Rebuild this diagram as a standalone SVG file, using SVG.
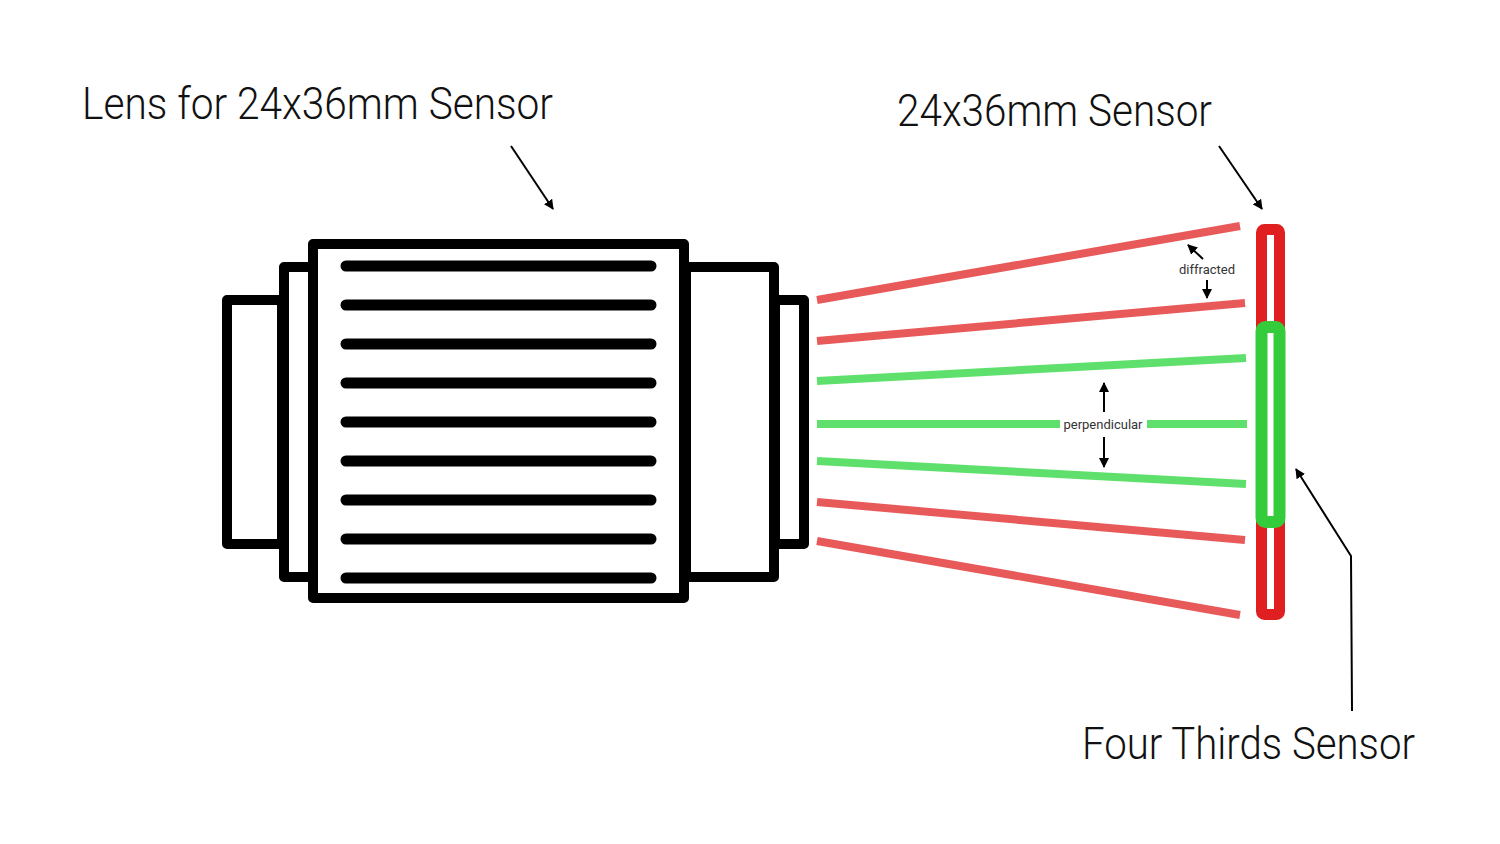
<svg xmlns="http://www.w3.org/2000/svg" width="1500" height="844" viewBox="0 0 1500 844">
<style>
.lens{fill:#fff;stroke:#000;stroke-width:10;stroke-linejoin:round}
.fin{stroke:#000;stroke-width:11;stroke-linecap:round}
.red{stroke:#e85a5a;stroke-width:8}
.grn{stroke:#5fe06c;stroke-width:8}
.big{font-family:Roboto,"Liberation Sans",sans-serif;font-weight:300;font-size:45px;fill:#111}
.sm{font-family:Roboto,"Liberation Sans",sans-serif;font-size:13px;fill:#333;text-anchor:middle}
.ptr{stroke:#000;stroke-width:2;fill:none}
</style>
<defs>
<marker id="ah" viewBox="0 0 10 10" refX="9" refY="5" markerWidth="5" markerHeight="5" orient="auto"><path d="M0,0L10,5L0,10z" fill="#000"/></marker>
</defs>
<rect width="1500" height="844" fill="#fff"/>
<g id="lens">
<rect class="lens" x="227" y="300" width="55" height="244"/>
<rect class="lens" x="284" y="267" width="30" height="310"/>
<rect class="lens" x="775" y="300" width="29" height="244"/>
<rect class="lens" x="686" y="267" width="88" height="310"/>
<rect class="lens" x="313" y="244" width="371" height="354"/>
<g class="fin">
<line x1="346" y1="266" x2="651" y2="266"/><line x1="346" y1="305" x2="651" y2="305"/><line x1="346" y1="344" x2="651" y2="344"/><line x1="346" y1="383" x2="651" y2="383"/><line x1="346" y1="422" x2="651" y2="422"/><line x1="346" y1="461" x2="651" y2="461"/><line x1="346" y1="500" x2="651" y2="500"/><line x1="346" y1="539" x2="651" y2="539"/><line x1="346" y1="578" x2="651" y2="578"/>
</g>
</g>
<g id="rays">
<line class="red" x1="817" y1="300" x2="1240" y2="226"/>
<line class="red" x1="817" y1="341" x2="1245" y2="303"/>
<line class="grn" x1="817" y1="381" x2="1246" y2="358"/>
<line class="grn" x1="817" y1="424" x2="1247" y2="424"/>
<line class="grn" x1="817" y1="461" x2="1246" y2="484"/>
<line class="red" x1="817" y1="502" x2="1245" y2="540"/>
<line class="red" x1="817" y1="541" x2="1240" y2="615"/>
</g>
<g id="sensor-ff"><rect x="1261.5" y="229.5" width="18" height="385" rx="3" fill="#fff" stroke="#e02020" stroke-width="11"/></g>
<g id="sensor-43"><rect x="1261.5" y="327" width="18" height="195" rx="4" fill="#fff" stroke="#35cc3c" stroke-width="12"/></g>
<g id="labels">
<rect x="1060" y="414" width="87" height="20" fill="#fff"/>
<text class="sm" x="1103" y="429">perpendicular</text>
<text class="sm" x="1207" y="274">diffracted</text>
<text class="big" x="82" y="119" textLength="471" lengthAdjust="spacingAndGlyphs">Lens for 24x36mm Sensor</text>
<text class="big" x="897" y="126" textLength="315" lengthAdjust="spacingAndGlyphs">24x36mm Sensor</text>
<text class="big" x="1082" y="759" textLength="333" lengthAdjust="spacingAndGlyphs">Four Thirds Sensor</text>
</g>
<g id="connectors" class="ptr">
<line x1="1104" y1="412" x2="1104" y2="383" marker-end="url(#ah)"/>
<line x1="1104" y1="437" x2="1104" y2="467" marker-end="url(#ah)"/>
<line x1="1203" y1="259" x2="1188" y2="245" marker-end="url(#ah)"/>
<line x1="1207" y1="280" x2="1207" y2="298" marker-end="url(#ah)"/>
<line x1="511" y1="146" x2="553" y2="209" marker-end="url(#ah)"/>
<line x1="1219" y1="146" x2="1262" y2="209" marker-end="url(#ah)"/>
<polyline points="1352,711 1351,556 1296,469" marker-end="url(#ah)"/>
</g>
</svg>
